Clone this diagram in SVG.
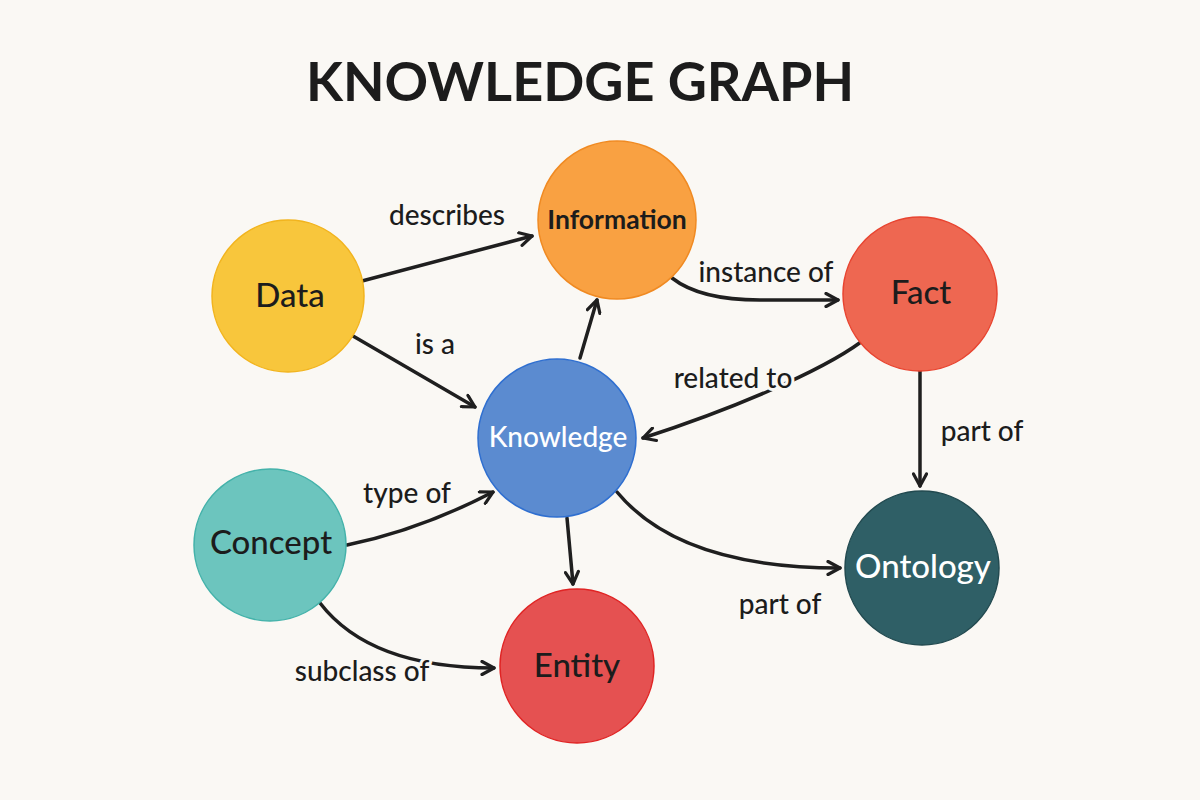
<svg xmlns="http://www.w3.org/2000/svg" width="1200" height="800" viewBox="0 0 1200 800">
<style>
.title{font-family:Lato,"Liberation Sans",sans-serif;font-weight:700;font-size:54px;fill:#1c1c1c;text-anchor:middle}
.nl{font-family:Lato,"Liberation Sans",sans-serif;font-weight:500;font-size:33px;fill:#1c1c1c;text-anchor:middle}
.el{font-family:Lato,"Liberation Sans",sans-serif;font-weight:500;font-size:28px;fill:#1c1c1c;text-anchor:middle;stroke:#faf8f4;stroke-width:6;paint-order:stroke;stroke-linejoin:round}
.edge{fill:none;stroke:#1f1f1f;stroke-width:3.5;stroke-linecap:round;marker-end:url(#arr)}
.node{stroke-width:1.5}
</style>
<defs>
<marker id="arr" viewBox="0 0 16 16" refX="14" refY="8" markerWidth="16" markerHeight="16" markerUnits="userSpaceOnUse" orient="auto">
<path d="M2,1.5 L14,8 L2,14.5" fill="none" stroke="#1f1f1f" stroke-width="3.2" stroke-linecap="round" stroke-linejoin="round"/>
</marker>
</defs>
<rect width="1200" height="800" fill="#faf8f4"/>
<text class="title" x="580" y="101">KNOWLEDGE GRAPH</text>

<g id="connectors">
<path class="edge" d="M362,281 L532,236"/>
<path class="edge" d="M353,336 L475,407"/>
<path class="edge" d="M580,358 L597,300"/>
<path class="edge" d="M672,278 Q700,300 760,300 L838,300"/>
<path class="edge" d="M861,342 C820,372 730,410 643,438"/>
<path class="edge" d="M920,370 L920,486"/>
<path class="edge" d="M617,492 Q680,568 840,568"/>
<path class="edge" d="M567,518 L573,584"/>
<path class="edge" d="M347,545 Q420,530 493,492"/>
<path class="edge" d="M320,603 Q370,668 494,668"/>
<text class="el" x="447" y="225">describes</text>
<text class="el" x="435" y="354">is a</text>
<text class="el" x="766" y="282">instance of</text>
<text class="el" x="733" y="388">related to</text>
<text class="el" x="982" y="441">part of</text>
<text class="el" x="780" y="614">part of</text>
<text class="el" x="407" y="503">type of</text>
<text class="el" x="362" y="681">subclass of</text>
</g>

<g id="node-data">
<circle class="node" cx="288" cy="296" r="76" fill="#f8c63c" stroke="#f2b41e"/>
<text class="nl" x="290" y="307">Data</text>
</g>
<g id="node-information">
<circle class="node" cx="617" cy="220" r="79" fill="#f9a142" stroke="#f08a22"/>
<text class="nl" x="617" y="229" style="font-size:26.5px;font-weight:700">Information</text>
</g>
<g id="node-fact">
<circle class="node" cx="920" cy="294" r="77" fill="#ee6751" stroke="#e84430"/>
<text class="nl" x="921" y="304">Fact</text>
</g>
<g id="node-knowledge">
<circle class="node" cx="557" cy="438" r="79" fill="#5b8bd0" stroke="#2f6fd0"/>
<text class="nl" x="558" y="447" style="font-size:28px;fill:#ffffff">Knowledge</text>
</g>
<g id="node-concept">
<circle class="node" cx="270" cy="545" r="76" fill="#6cc5be" stroke="#44b2aa"/>
<text class="nl" x="271" y="554">Concept</text>
</g>
<g id="node-entity">
<circle class="node" cx="577" cy="666" r="77" fill="#e55151" stroke="#e02424"/>
<text class="nl" x="577" y="677">Entity</text>
</g>
<g id="node-ontology">
<circle class="node" cx="922" cy="568" r="77" fill="#2f5f66" stroke="#224a50"/>
<text class="nl" x="923" y="578" style="fill:#ffffff">Ontology</text>
</g>
</svg>
